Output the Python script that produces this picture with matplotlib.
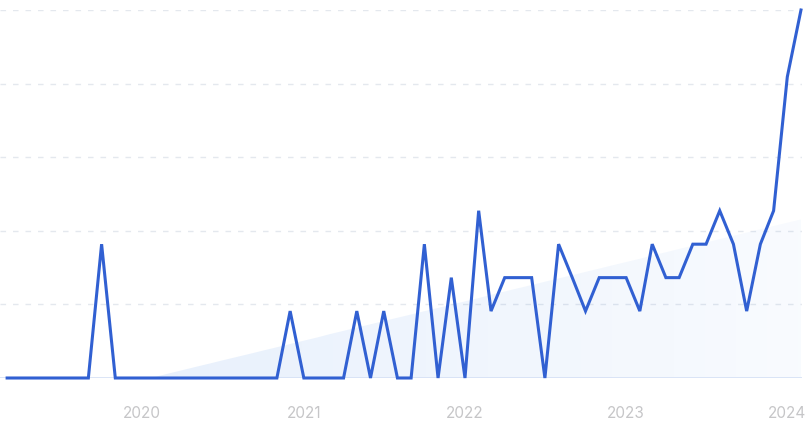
import numpy as np
import matplotlib.pyplot as plt
import matplotlib.dates as mdates
import pandas as pd
from matplotlib.patches import Polygon

# monthly values, Mar 2019 .. Feb 2024
months = pd.date_range("2019-03-01", "2024-02-01", freq="MS")
values = [0, 0, 0, 0, 0, 0, 0, 4, 0, 0,
          0, 0, 0, 0, 0, 0, 0, 0, 0, 0,
          0, 2, 0, 0, 0, 0, 2, 0, 2, 0,
          0, 4, 0, 3, 0, 5, 2, 3, 3, 3,
          0, 4, 3, 2, 3, 3, 3, 2, 4, 3,
          3, 4, 4, 5, 4, 2, 4, 5, 9, 11]
year_ticks = ["2020", "2021", "2022", "2023", "2024"]

line_color = "#3160d2"

x = mdates.date2num(months)
y = np.array(values, dtype=float)
step = x[1] - x[0]

fig = plt.figure(figsize=(8.12, 4.26), dpi=100)
ax = fig.add_axes([0, 48 / 426, 802 / 812, 368 / 426])
ax.set_xlim(x[0] - 7 / 13.46 * step, x[-1] + 1 / 13.46 * step)
ax.set_ylim(0, 11)

# gridlines
for g in np.linspace(0, 11, 6)[1:]:
    ax.axhline(g, color="#e4e8ee", lw=1, ls=(0, (4, 5)), zorder=1)
ax.axhline(0, color="#d5e0f5", lw=1.2, zorder=2)

# trend area with horizontal fade
coef = np.polyfit(np.arange(len(y)), y, 1)
trend = np.clip(np.polyval(coef, np.arange(len(y))), 0, None)
poly_x = np.concatenate([x, [x[-1], x[0]]])
poly_y = np.concatenate([trend, [0, 0]])
patch = Polygon(np.column_stack([poly_x, poly_y]), closed=True,
                facecolor="none", edgecolor="none")
ax.add_patch(patch)
grad = np.linspace(1, 0, 256).reshape(1, -1)
rgba = np.zeros((1, 256, 4))
rgba[..., 0] = 0.23
rgba[..., 1] = 0.51
rgba[..., 2] = 0.92
rgba[..., 3] = 0.035 + 0.1 * grad
im = ax.imshow(rgba, extent=[x[0], x[-1], 0, trend.max()], aspect="auto",
               origin="lower", zorder=1.5)
im.set_clip_path(patch)

ax.plot(x, y, color=line_color, lw=2.2, solid_joinstyle="miter",
        clip_on=False, zorder=3)

tick_pos = mdates.date2num(pd.to_datetime([t + "-01-01" for t in year_ticks]))
ax.set_xticks(tick_pos)
ax.set_xticklabels(year_ticks, fontsize=11, color="#c6c6c8", family="Inter")
ax.tick_params(axis="x", length=0, pad=20)
ax.set_yticks([])
for s in ax.spines.values():
    s.set_visible(False)
ax.set_facecolor("white")

fig.savefig("out.png", dpi=100)
